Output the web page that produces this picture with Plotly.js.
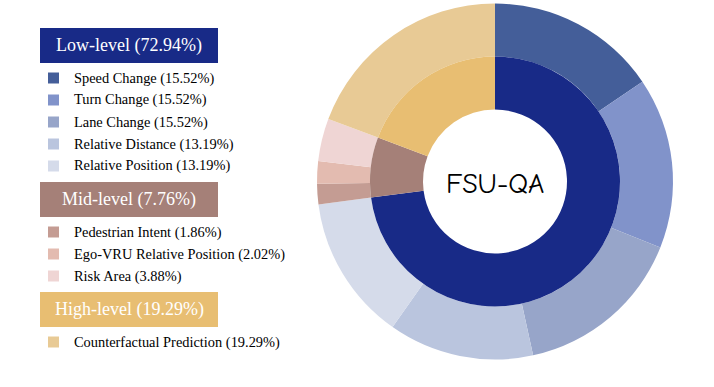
<!DOCTYPE html>
<html>
<head>
<meta charset="utf-8">
<script src="https://cdn.plot.ly/plotly-3.0.1.min.js"></script>
<style>html,body{margin:0;padding:0;background:#fff;}#chart{width:714px;height:387px;}</style>
</head>
<body>
<div id="chart"></div>
<script>
// ---- data ----
const levelNames = ["Low-level", "Mid-level", "High-level"];
const levelValues = [72.94, 7.76, 19.29];
const levelColors = ["#182A87", "#A58078", "#E8BE72"];

const subNames = ["Speed Change", "Turn Change", "Lane Change", "Relative Distance", "Relative Position",
                  "Pedestrian Intent", "Ego-VRU Relative Position", "Risk Area",
                  "Counterfactual Prediction"];
const subValues = [15.52, 15.52, 15.52, 13.19, 13.19, 1.86, 2.02, 3.88, 19.29];
const subParent = [0, 0, 0, 0, 0, 1, 1, 1, 2];
const subColors = ["#445E99", "#8193CA", "#97A5C9", "#BAC5DE", "#D5DBEA",
                   "#C49C93", "#E3BBB0", "#EFD5D4", "#E8CA95"];
const centerLabel = "FSU-QA";

// ---- layout helpers ----
const W = 714, H = 387;
const px = x => x / W;
const py = y => 1 - y / H;

const cx = 495, cy = 181.5, rOut = 178, rMid = 125, rIn = 72;

const outer = {
  type: "pie", values: subValues, labels: subNames, sort: false, direction: "clockwise", rotation: 0,
  marker: {colors: subColors, line: {width: 0}}, textinfo: "none", hoverinfo: "label+value",
  hole: rMid / rOut, showlegend: false,
  domain: {x: [px(cx - rOut), px(cx + rOut)], y: [py(cy + rOut), py(cy - rOut)]}
};
const inner = {
  type: "pie", values: levelValues, labels: levelNames, sort: false, direction: "clockwise", rotation: 0,
  marker: {colors: levelColors, line: {width: 0}}, textinfo: "none", hoverinfo: "label+value",
  hole: rIn / rMid, showlegend: false,
  domain: {x: [px(cx - rMid), px(cx + rMid)], y: [py(cy + rMid), py(cy - rMid)]}
};

// ---- custom legend ----
const shapes = [], annotations = [];
const serif = "Liberation Serif, Times New Roman, serif";
const boxX0 = 40, boxX1 = 218, boxH = 35;
const boxTops = [28, 182, 292];
const itemStartY = [78, 232, 342];
const itemStep = 22;

levelNames.forEach((name, li) => {
  const top = boxTops[li];
  shapes.push({type: "rect", xref: "paper", yref: "paper", x0: px(boxX0), x1: px(boxX1),
    y0: py(top + boxH), y1: py(top), fillcolor: levelColors[li], line: {width: 0}, layer: "above"});
  annotations.push({xref: "paper", yref: "paper", x: px((boxX0 + boxX1) / 2), y: py(top + boxH / 2),
    text: name + " (" + levelValues[li].toFixed(2) + "%)", showarrow: false,
    xanchor: "center", yanchor: "middle", font: {family: serif, size: 18, color: "#ffffff"}});
  let k = 0;
  subNames.forEach((sn, si) => {
    if (subParent[si] !== li) return;
    const yc = itemStartY[li] + k * itemStep;
    shapes.push({type: "rect", xref: "paper", yref: "paper", x0: px(48), x1: px(59),
      y0: py(yc + 5.5), y1: py(yc - 5.5), fillcolor: subColors[si], line: {width: 0}, layer: "above"});
    annotations.push({xref: "paper", yref: "paper", x: px(72), y: py(yc),
      text: sn + " (" + subValues[si].toFixed(2) + "%)", showarrow: false,
      xanchor: "left", yanchor: "middle", font: {family: serif, size: 14.4, color: "#000000"}});
    k++;
  });
});

annotations.push({xref: "paper", yref: "paper", x: px(cx), y: py(cy + 2), text: centerLabel, showarrow: false,
  xanchor: "center", yanchor: "middle",
  font: {family: "Comic Sans MS, Comic Neue, DejaVu Sans, sans-serif", size: 28, color: "#000000"}});

const layout = {
  width: W, height: H, margin: {l: 0, r: 0, t: 0, b: 0},
  paper_bgcolor: "#ffffff", plot_bgcolor: "#ffffff", showlegend: false,
  shapes: shapes, annotations: annotations
};

Plotly.newPlot("chart", [outer, inner], layout, {displayModeBar: false, staticPlot: true});
</script>
</body>
</html>
